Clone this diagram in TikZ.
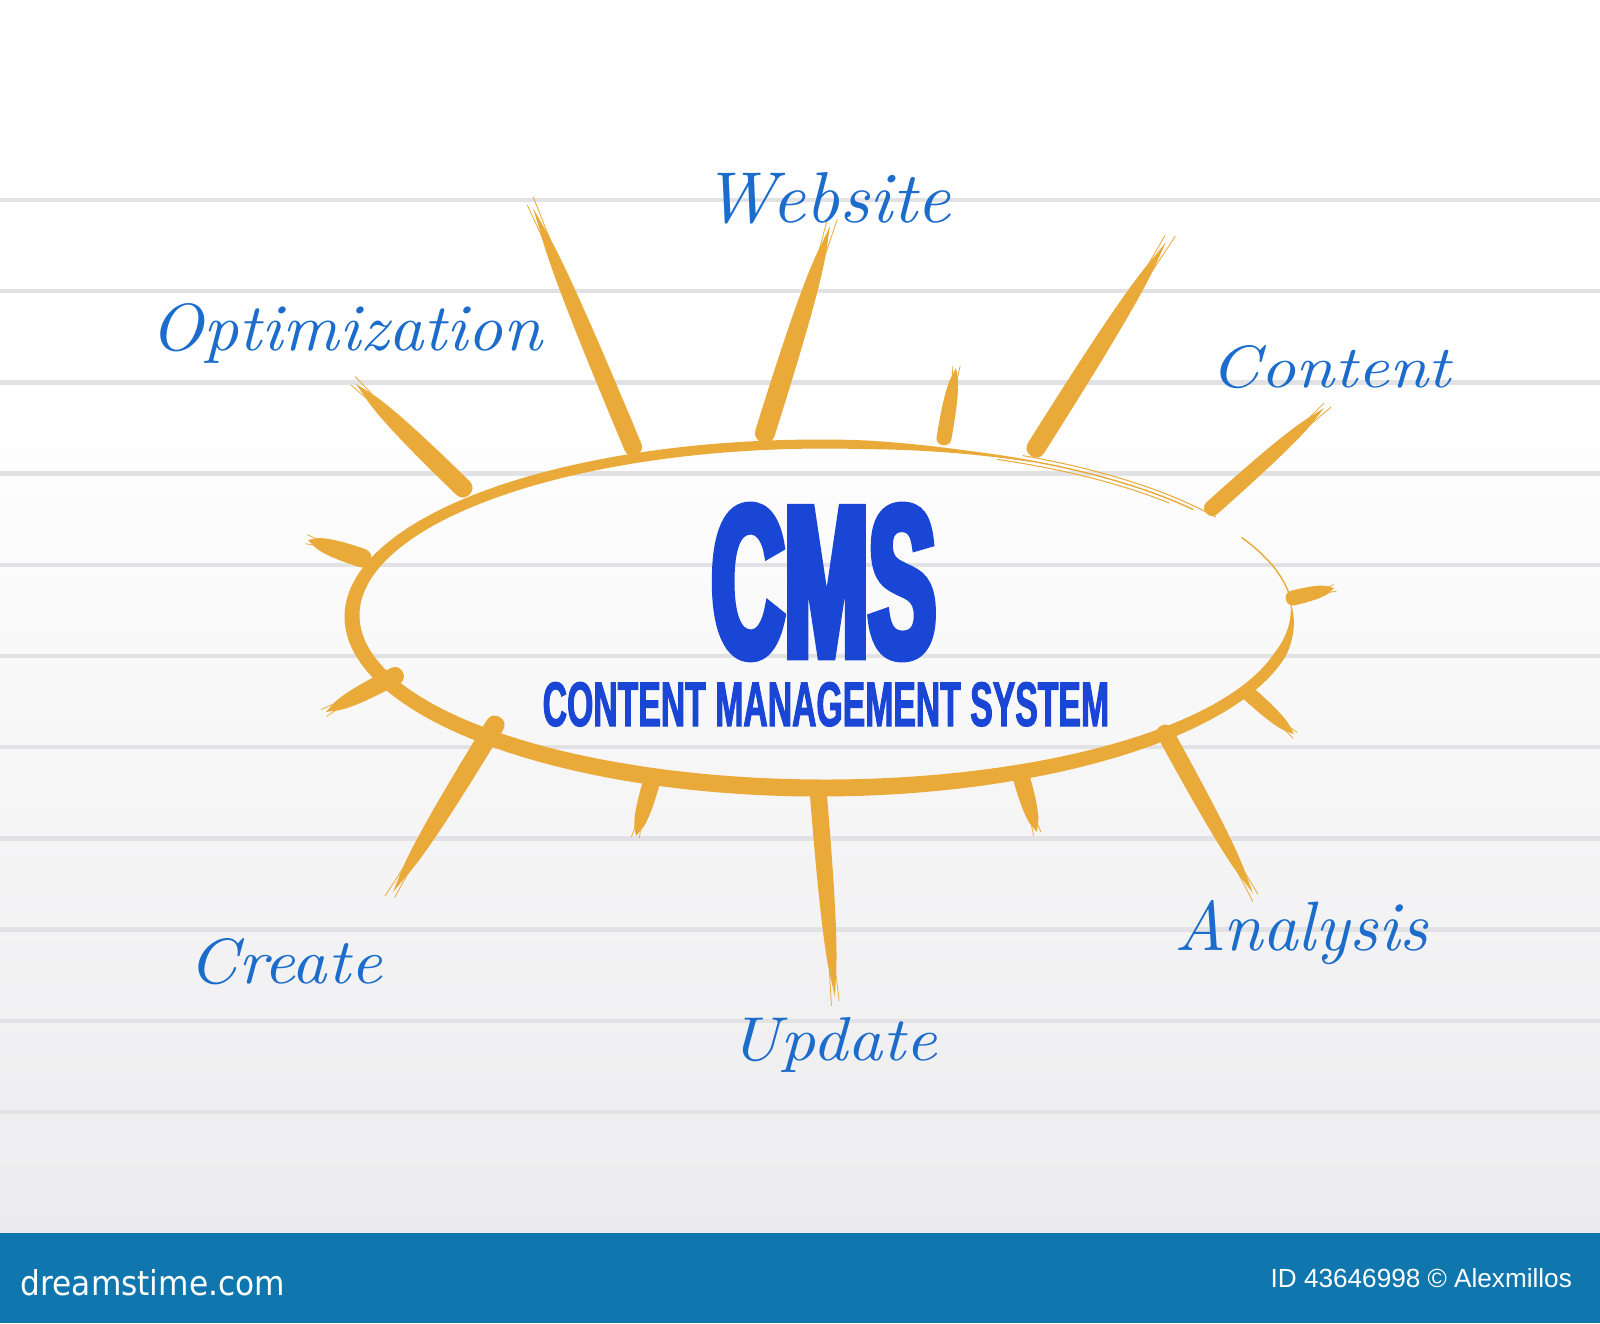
\documentclass[tikz,border=0pt]{standalone}
\usepackage{fontspec}
\usepackage{graphicx}
\usetikzlibrary{calc}
\newfontfamily\cmsfont{Liberation Sans}
\newfontfamily\cmsheavy{Liberation Sans}[BoldFeatures={FakeStretch=0.5,FakeBold=4}]
\newfontfamily\cmsmid{Liberation Sans}[BoldFeatures={FakeStretch=0.55,FakeBold=1.5}]
\newfontfamily\barfont{DejaVu Sans}
\definecolor{raycol}{RGB}{233,170,58}
\definecolor{cmsblue}{RGB}{26,70,214}
\definecolor{handblue}{RGB}{28,108,204}
\definecolor{rulegray}{RGB}{226,226,228}
\definecolor{bgbot}{RGB}{236,236,238}
\definecolor{barblue}{RGB}{15,118,174}
\newcommand\hand[3]{\resizebox{#1}{#2}{\itshape #3}}
\newcommand\brushray[5]{%
 \pgfmathsetmacro\brA{atan2((#4)-(#2),(#3)-(#1))}%
 \pgfmathsetmacro\brL{veclen((#3)-(#1),(#4)-(#2))}%
 \begin{scope}[shift={(#1,#2)},rotate=-\brA]
  \fill[raycol] (0,#5) .. controls ({0.4*\brL},{1.02*#5}) and ({0.75*\brL},{0.9*#5}) .. ({0.9*\brL},{0.35*#5}) -- (\brL,0) -- ({0.9*\brL},{-0.3*#5}) .. controls ({0.75*\brL},{-0.9*#5}) and ({0.4*\brL},{-1.02*#5}) .. (0,{-#5}) .. controls ({-1.3*#5},{-#5}) and ({-1.3*#5},{#5}) .. (0,#5) -- cycle;
  \draw[raycol,line width=0.008cm] ({0.86*\brL},{0.4*#5}) -- ({1.04*\brL},{0.5*#5});
  \draw[raycol,line width=0.008cm] ({0.86*\brL},{-0.3*#5}) -- ({1.02*\brL},{-0.45*#5});
 \end{scope}}
\begin{document}
\begin{tikzpicture}[x=0.01cm,y=-0.01cm,
  rule/.style={rulegray,line width=0.045cm},
  hand/.style={inner sep=0pt,text=handblue,anchor=base west},
  cmstext/.style={inner sep=0pt,text=cmsblue,anchor=base west},
  bartext/.style={inner sep=0pt,text=white,anchor=base west},
  strand/.style={raycol,line width=0.014cm},
  declare function={hw(\t)=(6.5+2*sin(\t)-cos(\t))*min(1,(\t+5)/18,(297-\t)/22);}]
\useasboundingbox (0,0) rectangle (1600,1323);
% paper
\fill[white] (0,0) rectangle (1600,1233);
\shade[top color=white,bottom color=bgbot] (0,380) rectangle (1600,1233);
\foreach \k in {0,...,10} \draw[rule] (0,{200+91.2*\k}) -- (1600,{200+91.2*\k});
% bottom bar
\fill[barblue] (0,1233) rectangle (1600,1323);
% rays
\brushray{633}{447}{533}{208}{9}
\brushray{765}{433}{830}{226}{10}
\brushray{944}{438}{956}{368}{7.5}
\brushray{1036}{448}{1166}{242}{9.5}
\brushray{1212}{508}{1324}{408}{8}
\brushray{1293}{598}{1334}{588}{7.5}
\brushray{1248}{693}{1294}{734}{7.5}
\brushray{1165}{733}{1253}{893}{8.5}
\brushray{1020}{773}{1037}{832}{8.5}
\brushray{818}{790}{835}{997}{8.5}
\brushray{652}{780}{636}{836}{8.5}
\brushray{495}{725}{393}{892}{9.5}
\brushray{395}{676}{326}{712}{9}
\brushray{362}{558}{308}{540}{9.5}
\brushray{463}{488}{356}{384}{9.5}
% ellipse
\fill[raycol] plot[domain=-5:297,samples=200] ({822+(470+hw(\x))*cos(\x)},{616+(172+hw(\x))*sin(\x)})
  -- plot[domain=297:-5,samples=200] ({822+(470-hw(\x))*cos(\x)},{616+(172-hw(\x))*sin(\x)}) -- cycle;
\draw[strand] plot[domain=288:322,samples=40] ({822+471*cos(\x)},{616+173*sin(\x)});
\draw[strand,line width=0.01cm] plot[domain=292:318,samples=40] ({822+467*cos(\x)},{616+169*sin(\x)});
\draw[strand,line width=0.01cm] plot[domain=295:326,samples=40] ({822+475*cos(\x)},{616+177*sin(\x)});
\draw[strand] plot[domain=333:356,samples=30] ({822+471*cos(\x)},{616+173*sin(\x)});
% central text
\node[cmstext,font=\cmsheavy\bfseries] (cms) at (711,656) {\resizebox{2.24cm}{1.50cm}{CMS}};
\node[cmstext,font=\cmsmid\bfseries] (cmsfull) at (542,726) {\resizebox{5.66cm}{0.44cm}{CONTENT MANAGEMENT SYSTEM}};
% labels
\node[hand] (opt) at (150,350) {\hand{3.91cm}{0.47cm}{Optimization}};
\node[hand] (web) at (702,222) {\hand{2.48cm}{0.50cm}{Website}};
\node[hand] (con) at (1210,387) {\hand{2.40cm}{0.42cm}{Content}};
\node[hand] (cre) at (188,983) {\hand{1.93cm}{0.45cm}{Create}};
\node[hand] (upd) at (729,1060) {\hand{2.07cm}{0.43cm}{Update}};
\node[hand] (ana) at (1174,950) {\hand{2.53cm}{0.50cm}{Analysis}};
% bar texts
\node[bartext] (brand) at (20,1295) {\resizebox{2.64cm}{0.26cm}{\barfont dreamstime.com}};
\node[bartext] (imgid) at (1270,1287) {\resizebox{3.01cm}{0.19cm}{\cmsfont ID 43646998 © Alexmillos}};
\end{tikzpicture}
\end{document}
